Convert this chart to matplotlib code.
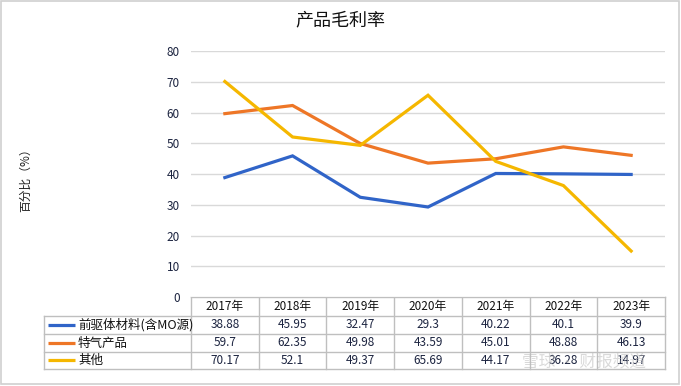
import numpy as np
import matplotlib
matplotlib.use("Agg")
import matplotlib.pyplot as plt
from matplotlib.patches import Rectangle

plt.rcParams["font.family"] = ["Noto Sans CJK SC", "DejaVu Sans"]

years = ["2017年", "2018年", "2019年", "2020年", "2021年", "2022年", "2023年"]
series_names = ["前驱体材料(含MO源)", "特气产品", "其他"]
precursor = [38.88, 45.95, 32.47, 29.3, 40.22, 40.1, 39.9]
gas = [59.7, 62.35, 49.98, 43.59, 45.01, 48.88, 46.13]
other = [70.17, 52.1, 49.37, 65.69, 44.17, 36.28, 14.97]
series_values = [precursor, gas, other]
colors = ["#3064C8", "#EE7626", "#F5B700"]

W, H = 681, 386
fig = plt.figure(figsize=(W / 100, H / 100), dpi=100)

# page overlay in pixel coords
page = fig.add_axes([0, 0, 1, 1])
page.set_xlim(0, W)
page.set_ylim(H, 0)
page.axis("off")
page.add_patch(Rectangle((0.5, 0.5), W - 2.5, H - 2.5, fill=False, ec="#D0D0D0", lw=1.2))

# plot area
px0, px1 = 191, 665
py_top, py_bot = 51.3, 297
ax = fig.add_axes([px0 / W, 1 - py_bot / H, (px1 - px0) / W, (py_bot - py_top) / H])
n = len(years)
x = np.arange(n) + 0.5
for vals, c in zip(series_values, colors):
    ax.plot(x, vals, color=c, lw=2.3, solid_joinstyle="miter", zorder=3)
ax.set_xlim(0, n)
ax.set_ylim(0, 80)
ax.set_yticks(range(0, 81, 10))
ax.yaxis.grid(True, color="#D9D9D9", lw=1)
ax.set_axisbelow(True)
ax.set_xticks([])
for s in ax.spines.values():
    s.set_visible(False)
ax.tick_params(axis="y", length=0, pad=8, labelsize=8.5, labelcolor="#1C2440")

page.text(340, 20, "产品毛利率", ha="center", va="center", fontsize=13, color="#111111")
page.text(26, 177, "百分比（%）", ha="center", va="center", rotation=90, fontsize=8.5, color="#222222")

# data table
col_w = (px1 - px0) / n
tx0 = 43.5
row_edges = [297.3, 315.7, 334.3, 351.7, 369.0]
lc = "#BFBFBF"
page.plot([px0, px1], [row_edges[0]] * 2, color=lc, lw=1)
for yy in row_edges[1:]:
    page.plot([tx0, px1], [yy, yy], color=lc, lw=1)
page.plot([tx0, tx0], [row_edges[1], row_edges[-1]], color=lc, lw=1)
for i in range(n + 1):
    xx = px0 + i * col_w
    page.plot([xx, xx], [row_edges[0], row_edges[-1]], color=lc, lw=1)

for i, yr in enumerate(years):
    page.text(px0 + (i + 0.5) * col_w, (row_edges[0] + row_edges[1]) / 2, yr,
              ha="center", va="center", fontsize=8.5, color="#111111")
for r, (name, vals, c) in enumerate(zip(series_names, series_values, colors)):
    yc = (row_edges[r + 1] + row_edges[r + 2]) / 2
    page.plot([48, 75], [yc, yc], color=c, lw=2.3, solid_capstyle="butt")
    page.text(78, yc, name, ha="left", va="center", fontsize=9, color="#111111")
    for i, v in enumerate(vals):
        page.text(px0 + (i + 0.5) * col_w, yc, f"{v:g}", ha="center", va="center",
                  fontsize=8.5, color="#1C2440")

# watermark
page.text(584, 362, "雪球 · 财报频道", ha="center", va="center", fontsize=12,
          color="#BBBBBB", alpha=0.55, zorder=5)

fig.savefig("out.png", dpi=100)
